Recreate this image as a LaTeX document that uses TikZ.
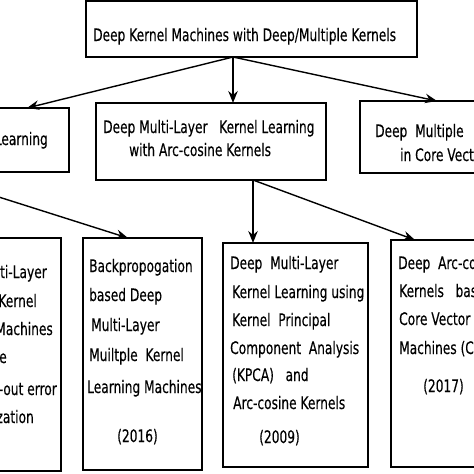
\documentclass[tikz,border=0pt]{standalone}
\usepackage{fontspec}
\setmainfont{DejaVu Sans}[FakeStretch=0.71,FakeBold=0.3]
\usetikzlibrary{arrows.meta}
\tikzset{
  box/.style={draw=black, line width=1.8pt, rectangle, inner sep=0pt},
  txt/.style={inner sep=0pt, font=\fontsize{17.2}{20}\selectfont, text=black},
  lw/.style={txt, anchor=base west},
  le/.style={txt, anchor=base east},
  arr/.style={draw=black, line width=1.4pt, -{Stealth[length=12pt,width=9.5pt,inset=4pt]}},
  con/.style={draw=black, line width=1.4pt}
}
\begin{document}
\begin{tikzpicture}[x=1pt,y=-1pt]
\useasboundingbox (0,0) rectangle (474,474);
\fill[white] (0,0) rectangle (474,474);
\clip (0,0) rectangle (474,474);
% boxes
\node[box, minimum width=331pt, minimum height=56pt] (top) at (251.5,29) {};
\node[box, minimum width=109pt, minimum height=64pt] (ml) at (14.5,140) {};
\node[box, minimum width=230pt, minimum height=77pt] (mc) at (211,141.5) {};
\node[box, minimum width=160pt, minimum height=72pt] (mr) at (440,137) {};
\node[box, minimum width=121pt, minimum height=233pt] (ba) at (0.5,354.5) {};
\node[box, minimum width=119pt, minimum height=232pt] (bb) at (142.5,354) {};
\node[box, minimum width=145pt, minimum height=224pt] (bc) at (295.5,355) {};
\node[box, minimum width=149pt, minimum height=227pt] (bd) at (465.5,353.5) {};
% texts
\node[lw] (t1) at (93,41) {Deep Kernel Machines with Deep/Multiple Kernels};
\node[le] (ml1) at (48,145) {Learning};
\node[lw] (mc1) at (103,133) {Deep Multi-Layer\ \ \ Kernel Learning};
\node[lw] (mc2) at (129,156) {with Arc-cosine Kernels};
\node[lw] (mr1) at (375,137) {Deep\ \ Multiple};
\node[lw] (mr2) at (400,161) {in Core Vect};
\node[le] (a1) at (47,278) {ti-Layer};
\node[le] (a2) at (37,307) {Kernel};
\node[le] (a3) at (53,335) {Machines};
\node[le] (a4) at (7,363) {e};
\node[le] (a5) at (57,395) {-out error};
\node[le] (a6) at (34,423) {zation};
\node[lw] (b1) at (89,272) {Backpropogation};
\node[lw] (b2) at (89,301) {based Deep};
\node[lw] (b3) at (91,331) {Multi-Layer};
\node[lw] (b4) at (89,361) {Muiltple\ \ Kernel};
\node[lw] (b5) at (87,393) {Learning Machines};
\node[lw] (b6) at (117,442) {(2016)};
\node[lw] (c1) at (230,269) {Deep\ \ Multi-Layer};
\node[lw] (c2) at (232,298) {Kernel Learning using};
\node[lw] (c3) at (232,326) {Kernel\ \ Principal};
\node[lw] (c4) at (230,354) {Component\ \ Analysis};
\node[lw] (c5) at (232,381) {(KPCA)\ \ \ and};
\node[lw] (c6) at (233,409) {Arc-cosine Kernels};
\node[lw] (c7) at (259,443) {(2009)};
\node[lw] (d1) at (398,269) {Deep\ \ Arc-co};
\node[lw] (d2) at (399,297) {Kernels\ \ \ bas};
\node[lw] (d3) at (399,325) {Core Vector};
\node[lw] (d4) at (399,354) {Machines (C};
\node[lw] (d5) at (423,392) {(2017)};
% connector coordinates
\coordinate (t0) at (233,57);
\coordinate (tml) at (27,108);
\coordinate (tmc) at (233,103);
\coordinate (tmr) at (437,101);
\coordinate (c0) at (253,180);
\coordinate (tbc) at (253,243);
\coordinate (tbd) at (415,240);
\coordinate (m0) at (-80,172);
\coordinate (tbb) at (128,238);
% connectors
\draw[arr] (t0) -- (tml);
\draw[arr] (t0) -- (tmc);
\draw[arr] (t0) -- (tmr);
\draw[arr] (c0) -- (tbc);
\draw[arr] (c0) -- (tbd);
\draw[arr] (m0) -- (tbb);
\end{tikzpicture}
\end{document}
